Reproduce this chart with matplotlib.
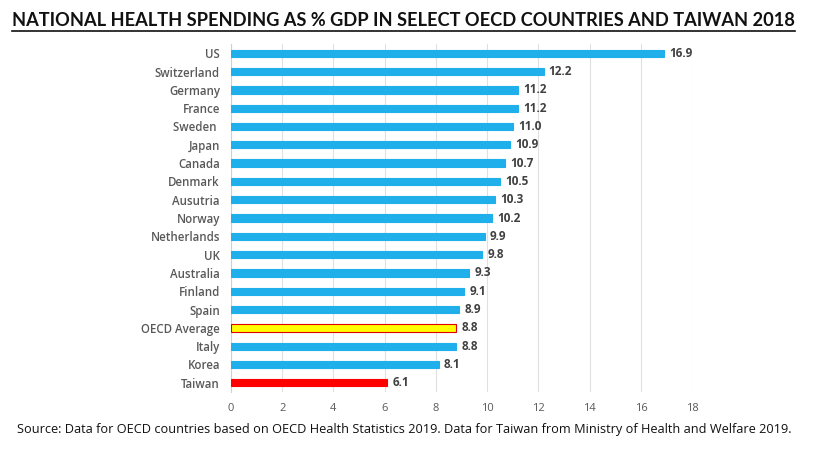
import matplotlib.pyplot as plt
import numpy as np

countries = ["US", "Switzerland", "Germany", "France", "Sweden ", "Japan", "Canada",
             "Denmark", "Ausutria", "Norway", "Netherlands", "UK", "Australia",
             "Finland", "Spain", "OECD Average", "Italy", "Korea", "Taiwan"]
values = [16.9, 12.2, 11.2, 11.2, 11.0, 10.9, 10.7, 10.5, 10.3, 10.2, 9.9, 9.8,
          9.3, 9.1, 8.9, 8.8, 8.8, 8.1, 6.1]
x_ticks = list(range(0, 20, 2))

title = "NATIONAL HEALTH SPENDING AS % GDP IN SELECT OECD COUNTRIES AND TAIWAN 2018"
source = ("Source: Data for OECD countries based on OECD Health Statistics 2019. "
          "Data for Taiwan from Ministry of Health and Welfare 2019.")

plt.rcParams["font.family"] = ["Open Sans", "DejaVu Sans"]

fig = plt.figure(figsize=(8.4, 4.5), dpi=100)
ax = fig.add_axes([0.275, 0.129, 0.549, 0.773])

blue = "#1FB0EC"
colors = []
edges = []
for name in countries:
    if name == "Taiwan":
        colors.append("#FF0000")
        edges.append("#FF0000")
    elif name == "OECD Average":
        colors.append("#FFFF00")
        edges.append("#E00000")
    else:
        colors.append(blue)
        edges.append(blue)

y = np.arange(len(countries))
ax.barh(y, values, height=0.4, color=colors, edgecolor=edges, linewidth=0.8, zorder=3)

for yi, v in zip(y, values):
    ax.text(v + 0.2, yi, f"{v:.1f}", va="center", ha="left", fontsize=8.5,
            fontweight="bold", color="#404040")

ax.set_ylim(len(countries) - 0.5, -0.5)
ax.set_xlim(0, 18)
ax.set_yticks(y)
ax.set_yticklabels(countries, fontsize=8.3, color="#595959", fontweight="semibold")
ax.set_xticks(x_ticks)
ax.tick_params(axis="x", labelsize=8, labelcolor="#595959", length=0, pad=8)
ax.tick_params(axis="y", length=0, pad=8)
ax.grid(axis="x", color="#E0E0E0", linewidth=0.8, zorder=0)
for side in ["top", "right", "bottom"]:
    ax.spines[side].set_visible(False)
ax.spines["left"].set_color("#D0D0D0")


def fit_width(text, target_px):
    fig.canvas.draw()
    w = text.get_window_extent().width
    text.set_fontsize(text.get_fontsize() * target_px / w)


t = fig.text(12 / 840, 0.955, title, fontsize=13.5, fontweight="bold", ha="left",
             va="center", color="#111111", family=["Lato", "DejaVu Sans"])
fit_width(t, 783)
fig.canvas.draw()
bb = t.get_window_extent()
fig.add_artist(plt.Line2D([bb.x0 / 840, bb.x1 / 840], [bb.y0 / 450 - 0.006] * 2,
                          color="#111111", linewidth=1.2))

s = fig.text(17 / 840, 0.045, source, fontsize=9, ha="left", va="center", color="#111111")
fit_width(s, 781)

fig.savefig("out.png", dpi=100)
